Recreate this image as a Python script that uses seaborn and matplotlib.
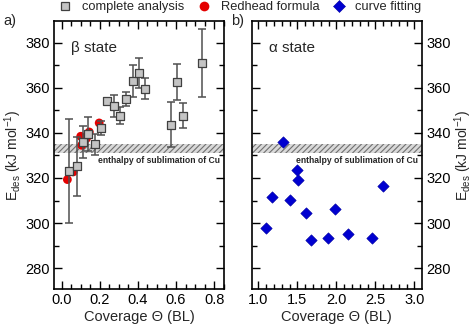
import numpy as np
import pandas as pd
import matplotlib
matplotlib.use("Agg")
import matplotlib.pyplot as plt
from matplotlib.lines import Line2D
from matplotlib.ticker import MultipleLocator
import seaborn as sns

# complete analysis (beta state)
ca_cov = [0.037, 0.079, 0.112, 0.140, 0.177, 0.208, 0.238, 0.276, 0.308, 0.336,
          0.376, 0.406, 0.436, 0.574, 0.606, 0.635, 0.735]
ca_e = [323.1, 325.2, 335.9, 339.4, 335.0, 342.2, 354.1, 351.9, 347.6, 355.1,
        363.1, 366.4, 359.6, 343.7, 362.7, 347.7, 371.1]
ca_err = [23.0, 13.0, 7.0, 7.5, 4.6, 3.0, 1.5, 4.7, 3.8, 3.2,
          7.0, 6.7, 4.6, 10.0, 8.0, 5.7, 15.0]

# Redhead formula (beta state)
rh_cov = [0.030, 0.061, 0.100, 0.105, 0.130, 0.145, 0.197]
rh_e = [319.3, 322.7, 338.5, 334.5, 337.5, 340.4, 344.4]

# curve fitting (alpha state)
cf_cov = [1.095, 1.176, 1.313, 1.40, 1.50, 1.513, 1.61, 1.676, 1.89, 1.983,
          2.146, 2.454, 2.595]
cf_e = [297.8, 311.6, 336.0, 310.4, 323.4, 319.0, 304.4, 292.6, 293.5, 306.2,
        295.3, 293.3, 316.4]

cu_band = (331.0, 335.0)

sns.set_theme(style="white")
plt.rcParams['font.family'] = ['Liberation Sans', 'DejaVu Sans']
plt.rcParams['hatch.linewidth'] = 0.8

fig = plt.figure(figsize=(4.74, 3.28), dpi=100)
axa = fig.add_axes([0.114, 0.119, 0.359, 0.817])
axb = fig.add_axes([0.531, 0.119, 0.359, 0.817])

df_ca = pd.DataFrame({"cov": ca_cov, "E": ca_e, "err": ca_err})
df_rh = pd.DataFrame({"cov": rh_cov, "E": rh_e})
df_cf = pd.DataFrame({"cov": cf_cov, "E": cf_e})

for ax in (axa, axb):
    ax.axhspan(cu_band[0], cu_band[1], facecolor='#d9d9d9', edgecolor='#707070',
               hatch='//////', linewidth=0, zorder=1)

# panel a
sns.scatterplot(data=df_rh, x="cov", y="E", ax=axa, marker='o', s=40,
                color='#e40000', edgecolor='none', zorder=2, legend=False)
axa.errorbar(df_ca["cov"], df_ca["E"], yerr=df_ca["err"], fmt='none',
             ecolor='#505050', elinewidth=1.1, capsize=3, capthick=1.1, zorder=3)
sns.scatterplot(data=df_ca, x="cov", y="E", ax=axa, marker='s', s=30,
                color='#c4c4c4', edgecolor='#404040', linewidth=0.9, zorder=4,
                legend=False)

# panel b
sns.scatterplot(data=df_cf, x="cov", y="E", ax=axb, marker='D', s=34,
                color='#0000d0', edgecolor='#0000a0', linewidth=0.4, zorder=3,
                legend=False)

axa.set_xlim(-0.04, 0.853)
axb.set_xlim(0.915, 3.095)
for ax in (axa, axb):
    ax.set_ylim(270.8, 389.6)
    ax.yaxis.set_major_locator(MultipleLocator(20))
    ax.yaxis.set_minor_locator(MultipleLocator(10))
    ax.tick_params(which='both', direction='in', top=True, right=True,
                   bottom=True, left=True, labelsize=10.5, width=1.0,
                   colors='black', pad=3)
    ax.tick_params(which='major', length=6)
    ax.tick_params(which='minor', length=3.5)
    for sp in ax.spines.values():
        sp.set_linewidth(1.2)
        sp.set_color('black')
    ax.set_xlabel("Coverage \u0398 (BL)", fontsize=10.5, labelpad=2)
    ax.set_ylabel("")

axa.xaxis.set_major_locator(MultipleLocator(0.2))
axa.xaxis.set_minor_locator(MultipleLocator(0.05))
axb.xaxis.set_major_locator(MultipleLocator(0.5))
axb.xaxis.set_minor_locator(MultipleLocator(0.1))
axa.set_xticks([0.0, 0.2, 0.4, 0.6, 0.8])
axa.set_xticklabels(["0.0", "0.2", "0.4", "0.6", "0.8"])
axb.set_xticks([1.0, 1.5, 2.0, 2.5, 3.0])
axb.set_xticklabels(["1.0", "1.5", "2.0", "2.5", "3.0"])

axb.tick_params(labelleft=False, labelright=True)
axa.tick_params(labelleft=True, labelright=False)

ylab = r"E$_{\mathregular{des}}$ (kJ mol$^{\mathregular{-1}}$)"
axa.set_ylabel(ylab, fontsize=10, labelpad=1)
axb.yaxis.set_label_position('right')
axb.set_ylabel(ylab, fontsize=10, labelpad=1, rotation=90)

axa.text(0.10, 0.90, "\u03b2 state", transform=axa.transAxes, fontsize=11,
         ha='left', va='center')
axb.text(0.10, 0.90, "\u03b1 state", transform=axb.transAxes, fontsize=11,
         ha='left', va='center')
for ax in (axa, axb):
    ax.text(0.975, 0.478, "enthalpy of sublimation of Cu", transform=ax.transAxes,
            fontsize=6.2, fontweight='bold', ha='right', va='center')

fig.text(0.008, 0.937, "a)", fontsize=10.5, ha='left', va='center')
fig.text(0.488, 0.937, "b)", fontsize=10.5, ha='left', va='center')

handles = [
    Line2D([], [], linestyle='none', marker='s', markersize=6,
           markerfacecolor='#c4c4c4', markeredgecolor='#404040', markeredgewidth=0.9),
    Line2D([], [], linestyle='none', marker='o', markersize=7,
           markerfacecolor='#e40000', markeredgecolor='none'),
    Line2D([], [], linestyle='none', marker='D', markersize=6,
           markerfacecolor='#0000d0', markeredgecolor='#0000a0', markeredgewidth=0.4),
]
fig.legend(handles, ["complete analysis", "Redhead formula", "curve fitting"],
           loc='center', bbox_to_anchor=(0.507, 0.978), ncol=3, frameon=False,
           fontsize=9.3, handletextpad=0.8, columnspacing=1.0, borderpad=0,
           handlelength=1.0)

fig.savefig("out.png", dpi=100)
